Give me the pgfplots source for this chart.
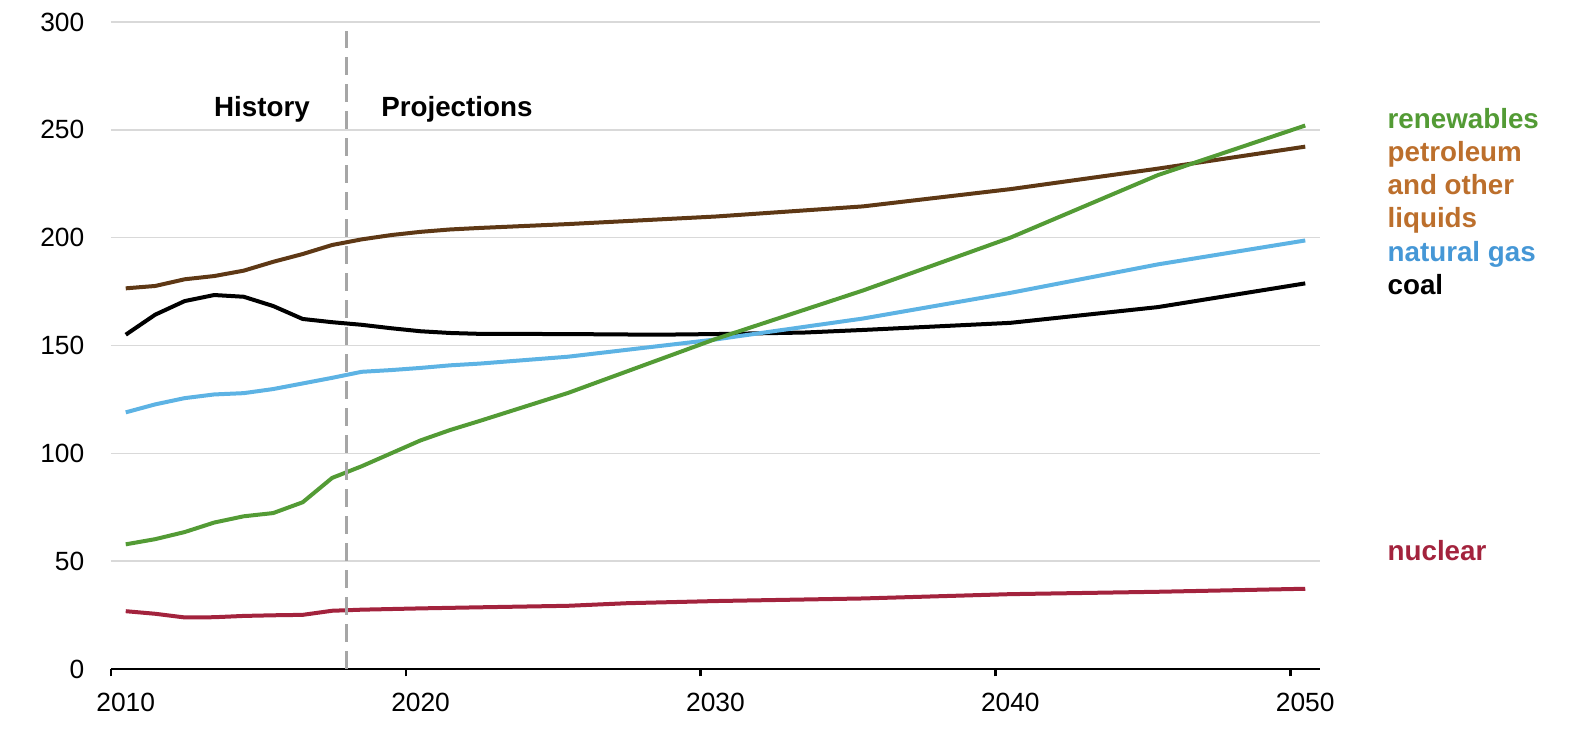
\documentclass[border=0pt]{standalone}
\usepackage{pgfplots}
\pgfplotsset{compat=1.18}
\usepackage{pgfplotstable}
\usepackage{fontspec}
\setmainfont{Liberation Sans}

\definecolor{renew}{HTML}{539B35}
\definecolor{petro}{HTML}{5E3815}
\definecolor{petrolab}{HTML}{BC6F2C}
\definecolor{gas}{HTML}{5DB3E4}
\definecolor{gaslab}{HTML}{4597D6}
\definecolor{nuke}{HTML}{A3233D}
\definecolor{gridgray}{HTML}{D9D9D9}
\definecolor{dashgray}{HTML}{A6A6A6}

\newcommand{\lab}{\fontsize{7.5}{9}\selectfont}
\newcommand{\blab}{\bfseries\fontsize{7.9}{9.5}\selectfont}

% values, one row per year shown
\pgfplotstableread{
year value
2010 57.8
2011 60.2
2012 63.5
2013 67.9
2014 70.8
2015 72.3
2016 77.3
2017 88.6
2018 94.0
2019 100.0
2020 106.0
2021 110.8
2022 115.0
2025 128.0
2030 153.0
2035 175.5
2040 200.0
2045 229.0
2050 252.0
}\renewables

\pgfplotstableread{
year value
2010 176.5
2011 177.6
2012 180.7
2013 182.2
2014 184.7
2015 188.8
2016 192.4
2017 196.6
2018 199.2
2019 201.2
2020 202.7
2021 203.8
2022 204.5
2025 206.3
2030 209.8
2035 214.5
2040 222.5
2045 232.0
2050 242.2
}\petroleum

\pgfplotstableread{
year value
2010 119.0
2011 122.7
2012 125.6
2013 127.3
2014 127.9
2015 129.8
2016 132.4
2017 135.0
2018 137.8
2019 138.6
2020 139.6
2021 140.8
2022 141.6
2025 144.8
2027 148.0
2030 152.8
2035 162.5
2040 174.4
2045 187.6
2050 198.7
}\natgas

\pgfplotstableread{
year value
2010 155.0
2011 164.3
2012 170.6
2013 173.4
2014 172.6
2015 168.3
2016 162.3
2017 160.8
2018 159.6
2019 158.0
2020 156.6
2021 155.8
2022 155.4
2025 155.3
2028 155.0
2030 155.3
2033 156.0
2035 157.2
2040 160.5
2045 167.8
2050 178.8
}\coal

\pgfplotstableread{
year value
2010 26.8
2011 25.6
2012 23.9
2013 24.0
2014 24.6
2015 24.9
2016 25.1
2017 27.0
2018 27.5
2019 27.8
2020 28.1
2022 28.6
2025 29.3
2027 30.5
2030 31.5
2035 32.7
2040 34.7
2045 35.8
2050 37.2
}\nuclear

\begin{document}
\begin{tikzpicture}[font=\lab]
\useasboundingbox (-11.1mm,-6.8mm) rectangle (145.9mm,66.9mm);
\begin{axis}[
    scale only axis,
    width=120.9mm, height=64.7mm,
    xmin=2010, xmax=2051, ymin=0, ymax=300,
    axis x line=bottom, axis y line=left,
    axis line style={-},
    x axis line style={black, line width=0.27mm},
    y axis line style={draw=none},
    xtick={2010,2020,2030,2040,2050},
    ytick={0,50,...,300},
    tick align=outside,
    major tick length=0.75mm,
    xtick style={black, line width=0.27mm},
    ytick style={draw=none},
    ymajorgrids,
    grid style={gridgray, line width=0.15mm},
    tick label style={font=\lab, inner sep=0pt},
    xticklabel style={xshift=1.47mm},
    xticklabel shift=1.55mm,
    yticklabel shift=1.85mm,
    /pgf/number format/assume math mode=true,
    /pgf/number format/1000 sep={},
    clip=false,
    every axis plot/.append style={line width=0.4mm, line join=round, no markers},
]

\addplot[black] table[x expr=\thisrow{year}+0.5, y=value] {\coal};
\addplot[gas]   table[x expr=\thisrow{year}+0.5, y=value] {\natgas};
\addplot[petro] table[x expr=\thisrow{year}+0.5, y=value] {\petroleum};
\addplot[nuke]  table[x expr=\thisrow{year}+0.5, y=value] {\nuclear};
\addplot[renew] table[x expr=\thisrow{year}+0.5, y=value] {\renewables};

% history / projections divider
\draw[dashgray, line width=0.3mm, dash pattern=on 1.8mm off 0.9mm]
    (axis cs:2018,0) -- (axis cs:2018,296);
\node[anchor=base, font=\blab, inner sep=0pt] at (axis cs:2015.12,256.4) {History};
\node[anchor=base, font=\blab, inner sep=0pt] at (axis cs:2021.73,256.4) {Projections};

% series labels on the right
\begin{scope}[every node/.style={anchor=base west, font=\blab, inner sep=0pt}]
\node[text=renew]    at (axis cs:2053.27,250.8) {renewables};
\node[text=petrolab] at (axis cs:2053.27,235.5) {petroleum};
\node[text=petrolab] at (axis cs:2053.27,219.9) {and other};
\node[text=petrolab] at (axis cs:2053.27,204.6) {liquids};
\node[text=gaslab]   at (axis cs:2053.27,189.1) {natural gas};
\node[text=black]    at (axis cs:2053.27,173.8) {coal};
\node[text=nuke]     at (axis cs:2053.27,50.5)  {nuclear};
\end{scope}

\end{axis}
\end{tikzpicture}
\end{document}
